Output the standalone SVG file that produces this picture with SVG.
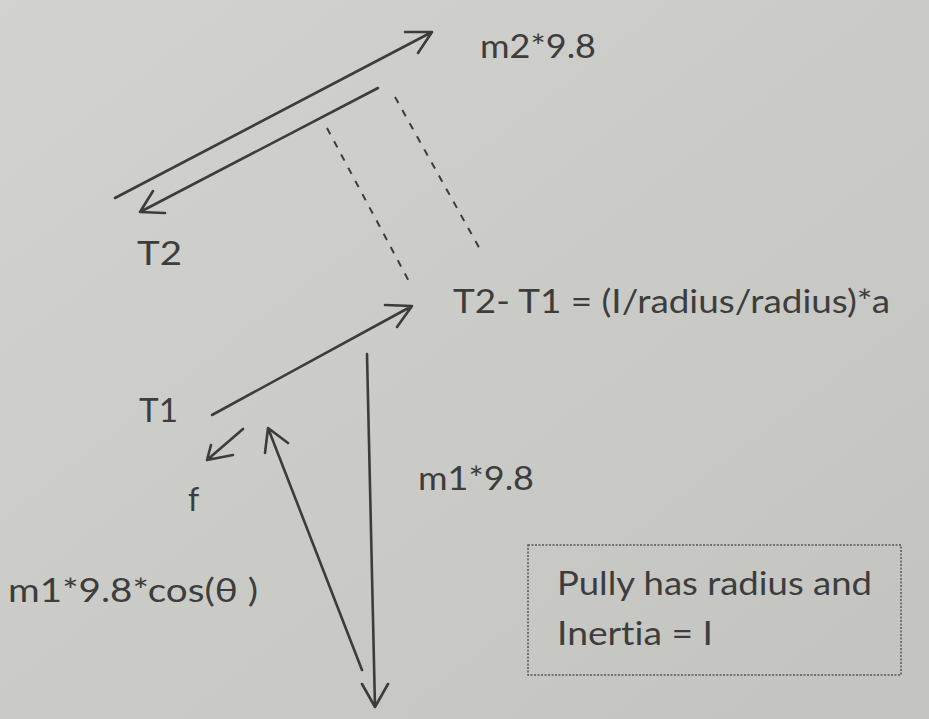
<svg xmlns="http://www.w3.org/2000/svg" width="929" height="719" viewBox="0 0 929 719">
<defs>
<linearGradient id="bg" x1="0" y1="0" x2="1" y2="1">
<stop offset="0" stop-color="#d2d3ce"/>
<stop offset="1" stop-color="#c3c4bf"/>
</linearGradient>
<style>
.ln{stroke:#3c3c3c;stroke-width:2.6;fill:none;stroke-linecap:round;stroke-linejoin:round}
.ds{stroke:#3c3c3c;stroke-width:2;fill:none;stroke-dasharray:7 8}
.tx{font-family:Lato,"Open Sans","Liberation Sans",sans-serif;fill:#3d3d3d;font-size:32px;font-variant-ligatures:none}
</style>
</defs>
<rect width="929" height="719" fill="url(#bg)"/>
<g id="connectors">
<path class="ln" d="M115,198 L432,32 M405,32 L432,32 L418,53"/>
<path class="ln" d="M378,88 L140,212 M153,191 L140,212 L165,213"/>
<path class="ds" d="M327,128 L411,285"/>
<path class="ds" d="M395,97 L481,251"/>
<path class="ln" d="M212,415 L412,306 M385,305 L412,306 L397,327"/>
<path class="ln" d="M243,429 L207,460 M211,445 L207,460 L233,455"/>
<path class="ln" d="M362,670 L268,428 M265,453 L268,428 L288,443"/>
<path class="ln" d="M367,354 L375,707 M362,684 L375,707 L388,684"/>
</g>
<g id="label-m2"><text class="tx" x="480" y="58" textLength="116" lengthAdjust="spacingAndGlyphs">m2*9.8</text></g>
<g id="label-T2"><text class="tx" x="137" y="265" textLength="45" lengthAdjust="spacingAndGlyphs">T2</text></g>
<g id="label-eq"><text class="tx" x="453" y="313" textLength="437" lengthAdjust="spacingAndGlyphs">T2- T1 = (I/radius/radius)*a</text></g>
<g id="label-T1"><text class="tx" x="139" y="422" textLength="39" lengthAdjust="spacingAndGlyphs">T1</text></g>
<g id="label-f"><text class="tx" x="188" y="511">f</text></g>
<g id="label-m1"><text class="tx" x="418" y="490" textLength="116" lengthAdjust="spacingAndGlyphs">m1*9.8</text></g>
<g id="label-normal"><text class="tx" x="8" y="602" textLength="250" lengthAdjust="spacingAndGlyphs">m1*9.8*cos(θ )</text></g>
<g id="note">
<rect x="528" y="545" width="373" height="130" fill="none" stroke="#555" stroke-width="1.5" stroke-dasharray="2 1.5"/>
<text class="tx" x="557" y="595" textLength="315" lengthAdjust="spacingAndGlyphs">Pully has radius and</text>
<text class="tx" x="557" y="645" textLength="156" lengthAdjust="spacingAndGlyphs">Inertia =  I</text>
</g>
</svg>
